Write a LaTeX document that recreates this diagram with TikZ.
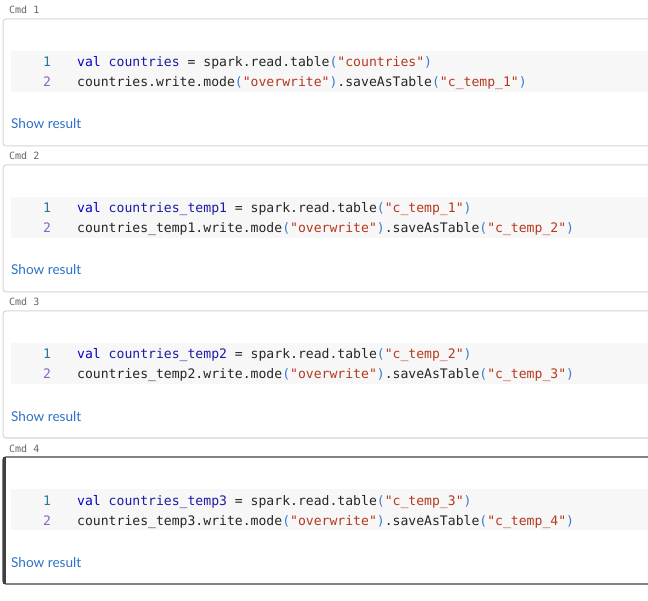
\documentclass[tikz,border=0pt]{standalone}
\usepackage{fontspec}
\setmainfont{Lato}
\setmonofont{DejaVu Sans Mono}
\definecolor{kw}{HTML}{0000CC}
\definecolor{idc}{HTML}{1A1AA6}
\definecolor{str}{HTML}{B5381F}
\definecolor{par}{HTML}{3A7BD5}
\definecolor{lnA}{HTML}{237893}
\definecolor{lnB}{HTML}{8A63C8}
\definecolor{link}{HTML}{2D72C4}
\definecolor{cellb}{HTML}{D6D6D6}
\definecolor{codebg}{HTML}{F7F7F7}
\newcommand{\K}[1]{\textcolor{kw}{#1}}
\newcommand{\I}[1]{\textcolor{idc}{#1}}
\newcommand{\Sx}[1]{\textcolor{par}{(}\textcolor{str}{"#1"}\textcolor{par}{)}}
\tikzset{
  code/.style={anchor=base west,inner sep=0pt,font=\ttfamily\fontsize{13.1}{14}\selectfont,text=black!85},
  lbl/.style={anchor=base west,inner sep=0pt,font=\ttfamily\fontsize{10}{11}\selectfont,text=black!60},
  res/.style={anchor=base west,inner sep=0pt,font=\fontsize{13.6}{14}\selectfont,text=link},
  cellbox/.style={draw=cellb,line width=1pt,rounded corners=3pt},
  activebox/.style={draw=black!75,line width=1.3pt,rounded corners=3pt},
}
\begin{document}
\begin{tikzpicture}[x=1pt,y=-1pt]
\useasboundingbox[fill=white] (0,0) rectangle (648,601);
\foreach \n/\src/\dst/\vr in {1/countries/c\_temp\_1/countries,2/c\_temp\_1/c\_temp\_2/countries\_temp1,3/c\_temp\_2/c\_temp\_3/countries\_temp2,4/c\_temp\_3/c\_temp\_4/countries\_temp3}{
  \pgfmathsetmacro{\o}{(\n-1)*146}
  \node[lbl] (cmd\n) at (9,{\o+14}) {Cmd \n};
  \ifnum\n=4
    \draw[activebox] (3,{\o+19}) rectangle (660,{\o+146});
    \fill[black!75] (3,{\o+19}) rectangle (6,{\o+146});
  \else
    \draw[cellbox] (3,{\o+19}) rectangle (660,{\o+146});
  \fi
  \fill[codebg] (11,{\o+51}) rectangle (648,{\o+92});
  \node[code,text=lnA] (la\n) at (43,{\o+67}) {1};
  \node[code,text=lnB] (lb\n) at (43,{\o+87}) {2};
  \node[code] (ca\n) at (77,{\o+67}) {\K{val} \I{\vr} = spark.read.table\Sx{\src}};
  \node[code] (cb\n) at (77,{\o+87}) {\vr.write.mode\Sx{overwrite}.saveAsTable\Sx{\dst}};
  \node[res] (r\n) at (11,{\o+129}) {Show result};
}
\end{tikzpicture}
\end{document}
